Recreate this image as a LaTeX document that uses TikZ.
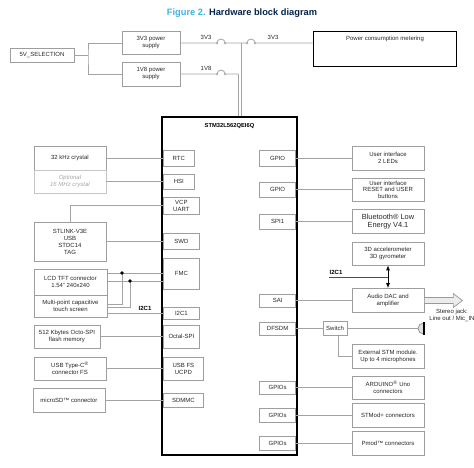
\documentclass[tikz,border=0pt]{standalone}
\usepackage{fontspec}
\setmainfont{Liberation Sans}
\usetikzlibrary{arrows.meta}
\definecolor{stlight}{HTML}{3CB4E6}
\definecolor{stdark}{HTML}{03234B}
\definecolor{wiregray}{HTML}{A3A3A3}
\definecolor{boxgray}{HTML}{9E9E9E}
\definecolor{txtgray}{HTML}{262626}

\tikzset{
  blk/.style={draw=boxgray, line width=0.7pt, minimum width=72pt, minimum height=23pt,
    align=center, inner sep=1pt, text=txtgray, font=\fontsize{6}{7}\selectfont},
  port/.style={blk, fill=white, minimum width=36pt, minimum height=15pt},
  lport/.style={port, anchor=west},
  rport/.style={port, anchor=east},
  wire/.style={draw=wiregray, line width=0.8pt},
  lbl/.style={text=txtgray, inner sep=0pt, font=\fontsize{6}{7}\selectfont},
  bus/.style={lbl, text=black, font=\bfseries\fontsize{6}{7}\selectfont}
}

\begin{document}
\begin{tikzpicture}[x=1pt,y=-1pt]
\useasboundingbox (0,0) rectangle (474,467);

% Title
\node (title) at (242,13) {\fontsize{9.3}{11}\selectfont\bfseries\textcolor{stlight}{Figure 2.} \textcolor{stdark}{Hardware block diagram}};

% Power supplies
\node[blk, minimum width=64pt, minimum height=14pt] (sel) at (42,55) {5V\_SELECTION};
\node[blk, minimum width=58pt] (psu3) at (151,43) {3V3 power\\supply};
\node[blk, minimum width=58pt, minimum height=24pt] (psu1) at (151,74) {1V8 power\\supply};
\node[blk, draw=black, line width=0.9pt, minimum width=143pt, minimum height=35pt] (meter) at (384.5,48.5) {};
\node[lbl] (metertxt) at (385,38.5) {Power consumption metering};

\draw[wire] (sel.east) -- (88,55);
\draw[wire] (psu3.west) -| (88,55) |- (psu1.west);

% Fuses and rails
\coordinate (fa) at (217,43);
\coordinate (fb) at (247,43);
\coordinate (fc) at (217,74);
\coordinate (ja) at (241,43);
\coordinate (jb) at (238,74);
\draw[wire] (psu3.east) -- (fa) arc[start angle=180, end angle=0, radius=4pt]
  -- (fb) arc[start angle=180, end angle=0, radius=4pt] -- (psu3.east -| meter.west);
\draw[wire] (psu1.east) -- (fc) arc[start angle=180, end angle=0, radius=4pt] -- (jb);
\foreach \f in {fa,fb,fc} {
  \draw[wiregray, fill=white, line width=0.5pt] (\f) circle (0.9pt) ([xshift=8pt]\f) circle (0.9pt);
}
\node[lbl] (l3a) at (206,37.5) {3V3};
\node[lbl] (l3b) at (273,37.5) {3V3};
\node[lbl] (l1v) at (206,68.5) {1V8};

% Microcontroller
\node[draw=black, line width=2.5pt, minimum width=135pt, minimum height=338pt, inner sep=0pt] (mcu) at (229.5,286) {};
\node[bus, font=\bfseries\fontsize{5.8}{6.8}\selectfont] (mcuname) at (229.5,126) {STM32L562QEI6Q};
\draw[wire] (ja) -- (ja |- mcu.north);
\draw[wire] (jb) -- (jb |- mcu.north);

% Left ports
\node[lport, minimum width=31pt, minimum height=16pt] (rtc) at (163,158) {RTC};
\node[lport, minimum width=31pt] (hsi) at (163,181.5) {HSI};
\node[lport, minimum height=17pt] (vcp) at (163,205.5) {VCP\\UART};
\node[lport, minimum height=16pt] (swd) at (163,241) {SWD};
\node[lport, minimum height=31pt] (fmc) at (163,273.5) {FMC};
\node[lport, minimum height=12pt] (i2cp) at (163,313) {I2C1};
\node[lport, minimum height=23pt] (ospi) at (163,336.5) {Octal-SPI};
\node[lport, minimum width=40pt, minimum height=23pt] (usbp) at (163,368.5) {USB FS\\UCPD};
\node[lport, minimum width=40pt, minimum height=14pt] (sdp) at (163,400) {SDMMC};

% Right ports
\node[rport, minimum height=16pt] (gpio1) at (296,158) {GPIO};
\node[rport] (gpio2) at (296,189.5) {GPIO};
\node[rport] (spi) at (296,221.5) {SPI1};
\node[rport, minimum height=13pt] (sai) at (296,300.5) {SAI};
\node[rport, minimum height=13pt] (dfsdm) at (296,328.5) {DFSDM};
\node[rport, minimum height=13pt] (gpios1) at (296,387.5) {GPIOs};
\node[rport, minimum height=14pt] (gpios2) at (296,415) {GPIOs};
\node[rport, minimum height=14pt] (gpios3) at (296,443) {GPIOs};

% Left peripherals
\node[blk, minimum height=24pt] (xtal) at (70,158) {32 kHz crystal};
\node[blk, draw=boxgray!60, text=gray!70, minimum height=23pt] (hse) at (70,181.5) {\textit{Optional}\\\textit{16 MHz crystal}};
\node[blk, minimum height=39pt] (stlink) at (70,241.5) {STLINK-V3E\\USB\\STDC14\\TAG};
\node[blk, minimum width=73pt, minimum height=26pt] (lcd) at (70.5,282) {LCD TFT connector\\1.54" 240x240};
\node[blk, minimum width=73pt, minimum height=22pt] (touch) at (70.5,306) {Multi-point capacitive\\touch screen};
\node[blk, minimum width=66pt] (flash) at (67,336.5) {512 Kbytes Octo-SPI\\flash memory};
\node[blk] (usbc) at (70,368.5) {USB Type-C\textsuperscript{\textregistered}\\connector FS};
\node[blk, minimum height=24pt] (sd) at (69,400) {microSD\texttrademark{} connector};

\draw[wire] (xtal.east) -- (rtc.west);
\draw[wire] (hse.east) -- (hsi.west);
\draw[wire] (vcp.west) -| (stlink.north);
\draw[wire] (stlink.east |- swd.west) -- (swd.west);
\draw[wire] (flash.east) -- (ospi.west);
\draw[wire] (usbc.east) -- (usbp.west);
\draw[wire] (sd.east) -- (sdp.west);

% LCD and touch screen
\coordinate (d1) at (122,273);
\coordinate (d2) at (130,281);
\draw[wire] ([yshift=9pt]lcd.east) -- ([yshift=9pt]lcd.east -| fmc.west);
\draw[wire] ([yshift=1pt]lcd.east) -- ([yshift=1pt]lcd.east -| fmc.west);
\draw[wire] ([yshift=2pt]touch.east) -| (d1);
\draw[wire] ([yshift=-1pt]touch.east) -| (d2);
\draw[wire] (i2cp.west) -- (i2cp.west -| touch.east);
\fill (d1) circle (1.8pt);
\fill (d2) circle (1.8pt);
\node[bus] (i2cl) at (145,308.5) {I2C1};

% Right peripherals
\node[blk, minimum height=24pt] (leds) at (388,158) {User interface\\2 LEDs};
\node[blk, font=\fontsize{6}{6.6}\selectfont] (btns) at (388,189.5) {User interface\\RESET and USER\\buttons};
\node[blk, minimum height=24pt, font=\fontsize{7.4}{8.6}\selectfont] (ble) at (388,221.5) {Bluetooth\textregistered{} Low\\Energy V4.1};
\node[blk] (accel) at (388,253.5) {3D accelerometer\\3D gyrometer};
\node[blk, minimum height=24pt] (dac) at (388,300.5) {Audio DAC and\\amplifier};
\node[blk, minimum width=24pt, minimum height=14pt] (switch) at (335,328.5) {Switch};
\node[blk, minimum height=24pt] (ext) at (388,356) {External STM module.\\Up to 4 microphones};
\node[blk] (ardu) at (388,387.5) {ARDUINO\textsuperscript{\textregistered} Uno\\connectors};
\node[blk, minimum height=24pt] (stmod) at (388,415) {STMod+ connectors};
\node[blk, minimum height=24pt] (pmod) at (388,443) {Pmod\texttrademark{} connectors};

\draw[wire] (gpio1.east) -- (leds.west);
\draw[wire] (gpio2.east) -- (btns.west);
\draw[wire] (spi.east) -- (ble.west);
\draw[wire] (sai.east) -- (dac.west);
\draw[wire] (dfsdm.east) -- (switch.west);
\draw[wire] ([xshift=3pt]switch.south) |- (ext.west);
\draw[wire] (gpios1.east) -- (ardu.west);
\draw[wire] (gpios2.east) -- (stmod.west);
\draw[wire] (gpios3.east) -- (pmod.west);

% I2C1 bus to the sensors and the audio codec
\coordinate (i2cR) at (329,277);
\draw[gray!60!black, line width=0.8pt] (i2cR) -- (i2cR -| accel.south);
\draw[black, line width=0.8pt, {Latex[length=5pt,width=4pt]}-{Latex[length=5pt,width=4pt]}] (accel.south) -- (dac.north);
\node[bus] (i2cr) at (336,272.5) {I2C1};

% Stereo jack output
\filldraw[fill=gray!15, draw=gray!80, line width=0.7pt] ([yshift=3pt]dac.east) -- ++(29,0) -- ++(0,-4)
  -- ++(9,7) -- ++(-9,7) -- ++(0,-4) -- ([yshift=-3pt]dac.east) -- cycle;
\node[lbl, align=center, font=\fontsize{6}{7}\selectfont] (jack) at (452,315.5) {Stereo jack:\\Line out / Mic\_IN};

% Microphone
\coordinate (mic) at (423.5,328.5);
\draw[wire] (switch.east) -- ([xshift=-5.5pt]mic);
\filldraw[fill=gray!25, draw=gray, line width=0.6pt] ([yshift=5.5pt]mic) arc[start angle=90, end angle=270, radius=5.5pt] -- cycle;
\draw[line width=2pt] ([yshift=6.5pt]mic) -- ([yshift=-6.5pt]mic);

\end{tikzpicture}
\end{document}
